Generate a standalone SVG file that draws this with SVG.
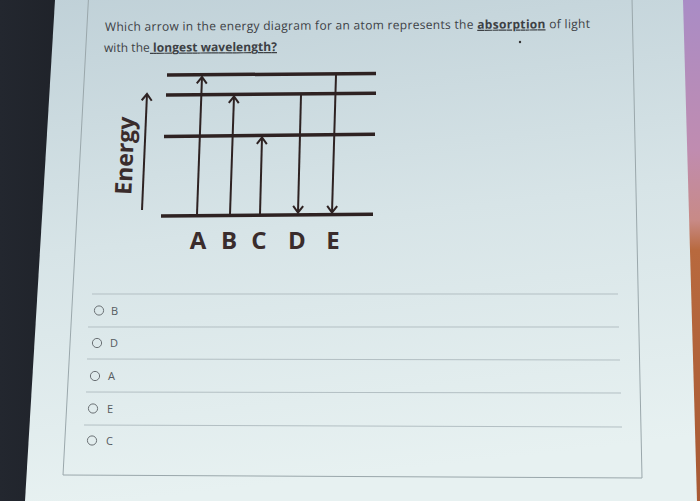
<svg xmlns="http://www.w3.org/2000/svg" width="700" height="501" viewBox="0 0 700 501">
<defs>
<linearGradient id="page" x1="0" y1="0" x2="0.15" y2="1">
<stop offset="0" stop-color="#c0d1d8"/>
<stop offset="0.5" stop-color="#d7e4e7"/>
<stop offset="1" stop-color="#e7f1f1"/>
</linearGradient>
<linearGradient id="rightbg" x1="0" y1="0" x2="0" y2="1">
<stop offset="0" stop-color="#a98cc6"/>
<stop offset="0.3" stop-color="#c08cb0"/>
<stop offset="0.44" stop-color="#c88a86"/>
<stop offset="0.5" stop-color="#b8693e"/>
<stop offset="1" stop-color="#a85a34"/>
</linearGradient>
<linearGradient id="leftbg" x1="0" y1="0" x2="1" y2="0">
<stop offset="0" stop-color="#23272f"/>
<stop offset="0.3" stop-color="#16181c"/>
<stop offset="1" stop-color="#0e0d0e"/>
</linearGradient>
<marker id="chev" viewBox="-8 -6 10 12" markerWidth="10" markerHeight="12" refX="0" refY="0" orient="auto" markerUnits="userSpaceOnUse">
<path d="M-6.5,-5 L0,0 L-6.5,5" fill="none" stroke="#2e2222" stroke-width="2"/>
</marker>
</defs>
<style>
.level{stroke:#2e2222;stroke-width:3.5;stroke-linecap:butt}
.arr{stroke:#2e2222;stroke-width:2;fill:none;marker-end:url(#chev)}
.lbl{font-family:"Open Sans","Liberation Sans",sans-serif;font-weight:700;font-size:24px;fill:#3a2c2c;text-anchor:middle}
.q{font-family:"Open Sans","Liberation Sans",sans-serif;font-size:12px;fill:#3c4044}
.opt{font-family:"Open Sans","Liberation Sans",sans-serif;font-size:11px;fill:#555b60}
.radio{fill:none;stroke:#6a7074;stroke-width:1}
.sep{stroke:#b3bfc3;stroke-width:1}
</style>
<rect x="0" y="0" width="700" height="501" fill="url(#leftbg)"/>
<rect x="660" y="0" width="40" height="501" fill="url(#rightbg)"/>
<polygon points="55,0 683,0 697,501 25,501" fill="url(#page)"/>
<polygon points="88.5,-2 632,-2 642,478 63,475" fill="none" stroke="#9aa7ab" stroke-width="1"/>
<g id="question">
<text class="q" transform="rotate(-0.35 105 31)" x="105" y="31" textLength="485" lengthAdjust="spacing">Which arrow in the energy diagram for an atom represents the <tspan font-weight="700" text-decoration="underline">absorption</tspan> of light</text>
<text class="q" transform="rotate(-0.35 104 52)" x="104" y="52" textLength="173" lengthAdjust="spacing">with the<tspan font-weight="700" text-decoration="underline"> longest wavelength?</tspan></text>
<circle cx="520" cy="42" r="1.2" fill="#333"/>
</g>
<g id="energy-axis">
<line class="arr" x1="142" y1="210" x2="147" y2="94"/>
<text class="lbl" transform="translate(133 156) rotate(-87.6)" x="0" y="0" textLength="78" lengthAdjust="spacingAndGlyphs" style="font-size:23px">Energy</text>
</g>
<g id="levels">
<line id="level-4" class="level" x1="167" y1="75" x2="376" y2="73.5"/>
<line id="level-3" class="level" x1="166" y1="95" x2="376" y2="93.3"/>
<line id="level-2" class="level" x1="164" y1="136.5" x2="375" y2="134.2"/>
<line id="level-1" class="level" x1="161" y1="216" x2="373" y2="214.3"/>
</g>
<g id="connectors">
<line id="arrow-A" class="arr" x1="197" y1="214" x2="202" y2="77"/>
<line id="arrow-B" class="arr" x1="230" y1="214" x2="234" y2="96.5"/>
<line id="arrow-C" class="arr" x1="260" y1="214" x2="262" y2="137.5"/>
<line id="arrow-D" class="arr" x1="301" y1="95" x2="298" y2="212.5"/>
<line id="arrow-E" class="arr" x1="336" y1="75" x2="332" y2="212.5"/>
</g>
<g id="labels">
<text class="lbl" x="198" y="249">A</text>
<text class="lbl" x="229" y="249">B</text>
<text class="lbl" x="259" y="249">C</text>
<text class="lbl" x="297" y="249">D</text>
<text class="lbl" x="333" y="249">E</text>
</g>
<g id="options">
<line class="sep" x1="92" y1="294" x2="618" y2="294"/>
<g id="opt-B"><circle class="radio" cx="99" cy="310.5" r="4.6"/><text class="opt" x="111" y="314.5">B</text></g>
<line class="sep" x1="88" y1="327" x2="619" y2="327"/>
<g id="opt-D"><circle class="radio" cx="97" cy="343" r="4.6"/><text class="opt" x="110" y="347">D</text></g>
<line class="sep" x1="87" y1="359" x2="620" y2="360"/>
<g id="opt-A"><circle class="radio" cx="95" cy="376" r="4.6"/><text class="opt" x="108" y="379.5">A</text></g>
<line class="sep" x1="86" y1="392" x2="621" y2="393"/>
<g id="opt-E"><circle class="radio" cx="93" cy="408.5" r="4.6"/><text class="opt" x="107" y="412.5">E</text></g>
<line class="sep" x1="84" y1="425" x2="622" y2="427"/>
<g id="opt-C"><circle class="radio" cx="92" cy="440.5" r="4.6"/><text class="opt" x="106" y="444.5">C</text></g>
</g>
</svg>
